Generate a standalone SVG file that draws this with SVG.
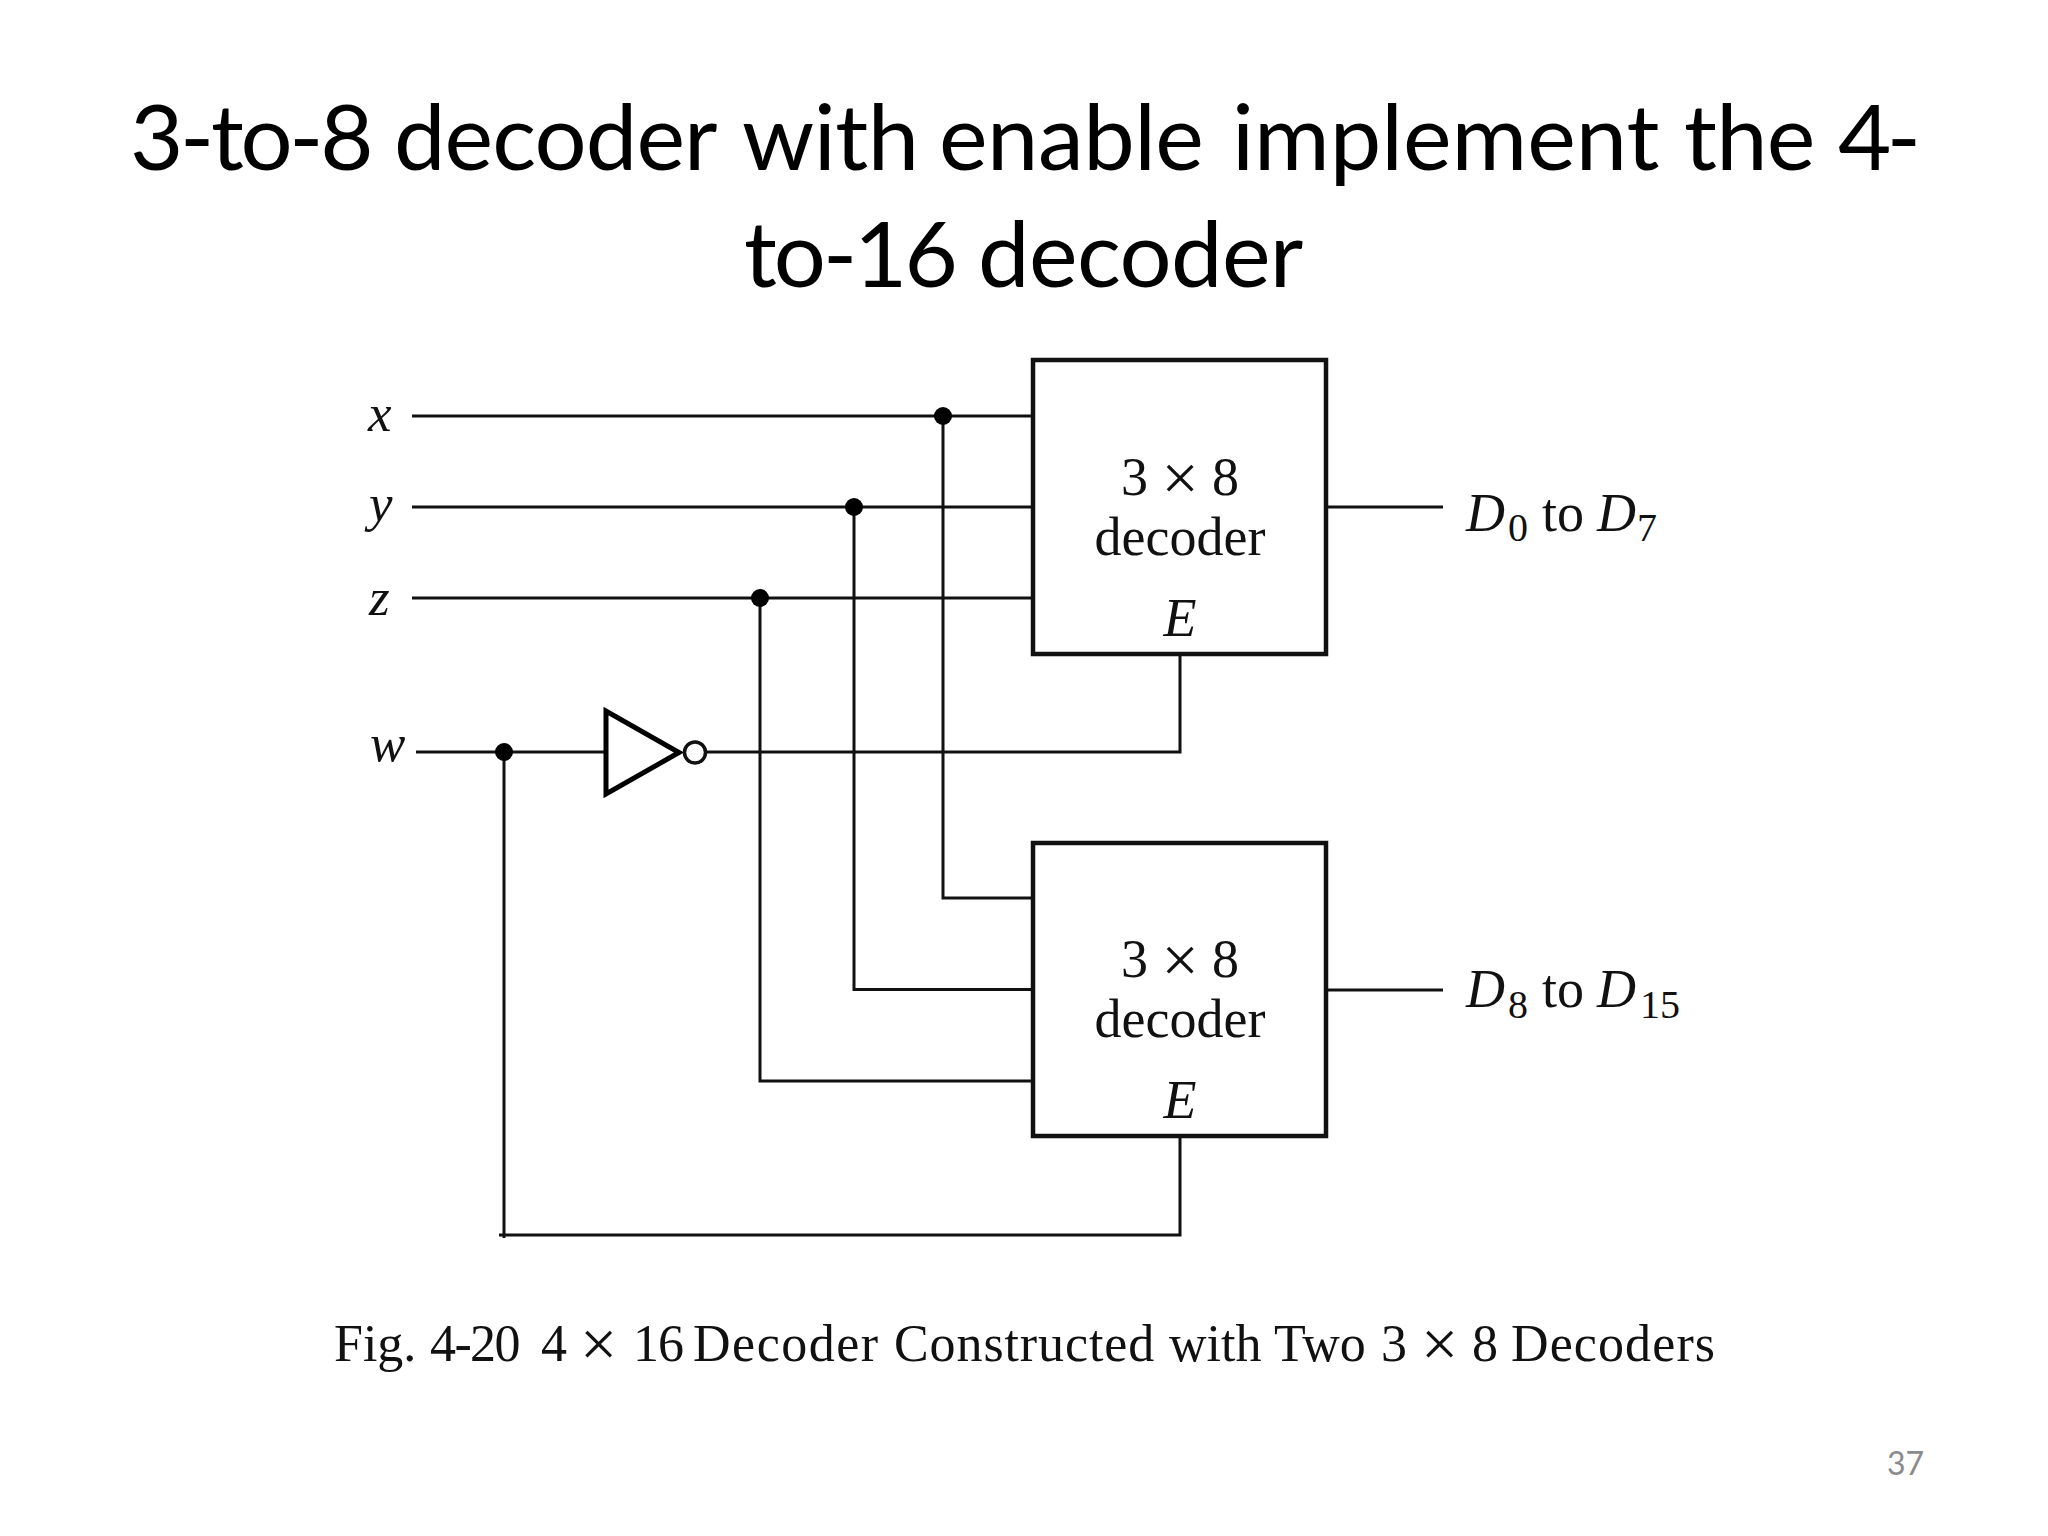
<svg xmlns="http://www.w3.org/2000/svg" width="2048" height="1536" viewBox="0 0 2048 1536">
<style>
.w{fill:none;stroke:#111;stroke-width:3}
.t{font-family:"Liberation Serif",serif;fill:#111}
.c{text-anchor:middle}
.i{font-style:italic}
.s{font-size:40px}
.m{font-size:54px}
.l{font-size:53px}
.x{font-size:66px}
.title{font-family:Lato,"Open Sans",sans-serif;font-size:92px;fill:#000}
.box{fill:#fff;stroke:#111;stroke-width:4.5}
.dot{fill:#000}
</style>
<rect width="2048" height="1536" fill="#fff"/>
<text class="title" y="170"><tspan x="130" style="letter-spacing:-3.300px">3-to-8 </tspan><tspan x="394" style="letter-spacing:-0.900px">decoder </tspan><tspan x="742" style="letter-spacing:-0.500px">with </tspan><tspan x="939" style="letter-spacing:-0.500px">enable </tspan><tspan x="1232">implement </tspan><tspan x="1684" style="letter-spacing:-0.800px">the </tspan><tspan x="1838" style="letter-spacing:-4.500px">4-</tspan></text>
<text class="title" y="287"><tspan x="744" style="letter-spacing:-3px">to-16 </tspan><tspan x="978" style="letter-spacing:-0.600px">decoder</tspan></text>
<g id="connectors">
<path class="w" d="M412 416H1031M412 507H1031M412 598H1031"/>
<path class="w" d="M943 416V898H1031M854 507V989.500H1031M760 598V1081H1031"/>
<path class="w" d="M416 752H606M706 752H1180V656"/>
<path class="w" d="M504 752V1238M499 1235H1180V1138"/>
<path class="w" d="M1328 507H1443M1328 990H1443"/>
</g>
<g id="dots">
<circle class="dot" cx="943" cy="416" r="9"/>
<circle class="dot" cx="854" cy="507" r="9"/>
<circle class="dot" cx="760" cy="598" r="9"/>
<circle class="dot" cx="504" cy="752" r="9"/>
</g>
<g id="inverter">
<path d="M606 711V794L679 752.500Z" fill="#fff" stroke="#000" stroke-width="5"/>
<circle cx="695" cy="752.500" r="10.500" fill="#fff" stroke="#111" stroke-width="3.500"/>
</g>
<g id="decoder1">
<rect class="box" x="1033" y="360" width="293" height="294"/>
<text class="t c m" x="1180" y="495">3 <tspan class="x" dy="5">×</tspan><tspan dy="-5"> 8</tspan></text>
<text class="t c m" x="1180" y="555">decoder</text>
<text class="t c i m" x="1180" y="636">E</text>
</g>
<g id="decoder2">
<rect class="box" x="1033" y="843" width="293" height="293"/>
<text class="t c m" x="1180" y="977">3 <tspan class="x" dy="5">×</tspan><tspan dy="-5"> 8</tspan></text>
<text class="t c m" x="1180" y="1037">decoder</text>
<text class="t c i m" x="1180" y="1118">E</text>
</g>
<g id="inputs">
<text class="t i l" x="368" y="431">x</text>
<text class="t i l" x="369" y="521">y</text>
<text class="t i l" x="369" y="615">z</text>
<text class="t i l" x="370" y="761">w</text>
</g>
<g id="outputs">
<text class="t m" y="531"><tspan class="i" x="1466">D</tspan><tspan class="s" x="1508" y="541">0</tspan><tspan x="1542" y="531">to</tspan><tspan class="i" x="1597" y="531">D</tspan><tspan class="s" x="1637" y="541">7</tspan></text>
<text class="t m" y="1007"><tspan class="i" x="1466">D</tspan><tspan class="s" x="1508" y="1018">8</tspan><tspan x="1542" y="1007">to</tspan><tspan class="i" x="1597" y="1007">D</tspan><tspan class="s" x="1640" y="1018">15</tspan></text>
</g>
<text id="caption" class="t" font-size="52" y="1361"><tspan x="334">Fig. </tspan><tspan x="430" style="letter-spacing:-1.600px">4-20  </tspan><tspan x="541">4 </tspan><tspan class="x" x="580" y="1366">×</tspan><tspan x="633" y="1361" style="letter-spacing:-1px">16 </tspan><tspan x="693" style="letter-spacing:1.500px">Decoder </tspan><tspan x="894" style="letter-spacing:0.900px">Constructed </tspan><tspan x="1169">with </tspan><tspan x="1274">Two </tspan><tspan x="1381">3 </tspan><tspan class="x" x="1421" y="1366">×</tspan><tspan x="1472" y="1361">8 </tspan><tspan x="1511" style="letter-spacing:1.100px">Decoders</tspan></text>
<text x="1887" y="1475" font-family="Lato,sans-serif" font-size="32" fill="#8b8b8b">37</text>
</svg>
